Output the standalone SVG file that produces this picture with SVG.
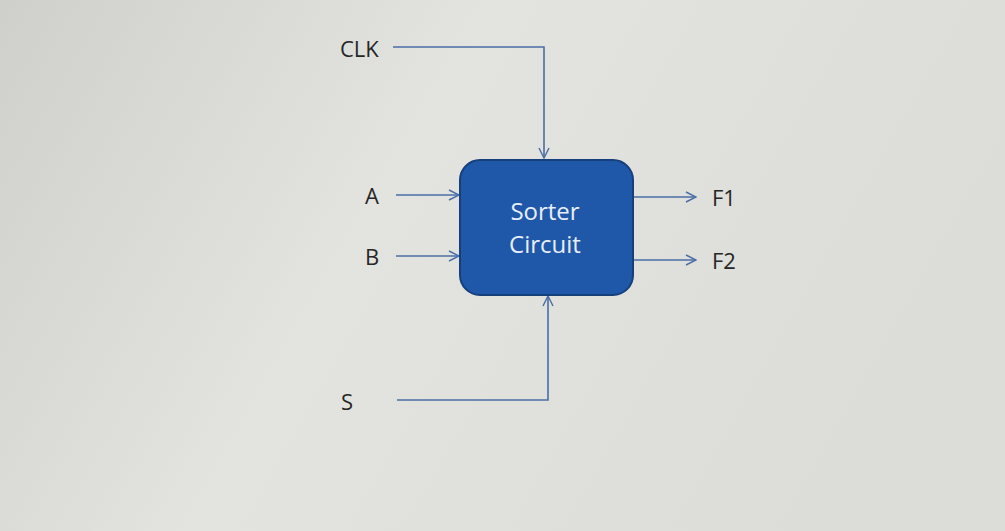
<svg xmlns="http://www.w3.org/2000/svg" width="1005" height="531" viewBox="0 0 1005 531">
<defs>
<linearGradient id="bg" x1="0" y1="0" x2="1" y2="0.3">
<stop offset="0" stop-color="#cfd0cc"/>
<stop offset="0.45" stop-color="#e3e3df"/>
<stop offset="1" stop-color="#dcdcd8"/>
</linearGradient>
<marker id="arr" viewBox="0 0 12 12" refX="11" refY="6" markerWidth="12" markerHeight="12" markerUnits="userSpaceOnUse" orient="auto">
<path d="M1,1 L11,6 L1,11" fill="none" stroke="#4a6ea6" stroke-width="1.4"/>
</marker>
<style>
.lbl{font-family:"Open Sans","Liberation Sans",sans-serif;font-size:22px;fill:#262626;dominant-baseline:central}
.in{font-family:"Open Sans","Liberation Sans",sans-serif;font-size:24px;fill:#e8eef8;text-anchor:middle;dominant-baseline:central}
.w{fill:none;stroke:#4a6ea6;stroke-width:1.6}
</style>
</defs>
<rect width="1005" height="531" fill="url(#bg)"/>
<g id="connectors">
<path class="w" d="M393,47 H544 V158" marker-end="url(#arr)"/>
<path class="w" d="M396,195 H459" marker-end="url(#arr)"/>
<path class="w" d="M396,256 H459" marker-end="url(#arr)"/>
<path class="w" d="M397,400 H548 V296" marker-end="url(#arr)"/>
<path class="w" d="M634,197 H696" marker-end="url(#arr)"/>
<path class="w" d="M634,260 H696" marker-end="url(#arr)"/>
</g>
<g id="sorter">
<rect x="460" y="160" width="173" height="135" rx="20" fill="#1f58a8" stroke="#173f7c" stroke-width="2"/>
<text class="in" x="545" y="210">Sorter</text>
<text class="in" x="545" y="243">Circuit</text>
</g>
<g id="CLK"><text class="lbl" x="340" y="48">CLK</text></g>
<g id="A"><text class="lbl" x="365" y="195">A</text></g>
<g id="B"><text class="lbl" x="365" y="256">B</text></g>
<g id="S"><text class="lbl" x="341" y="401">S</text></g>
<g id="F1"><text class="lbl" x="712" y="197">F1</text></g>
<g id="F2"><text class="lbl" x="712" y="260">F2</text></g>
</svg>
